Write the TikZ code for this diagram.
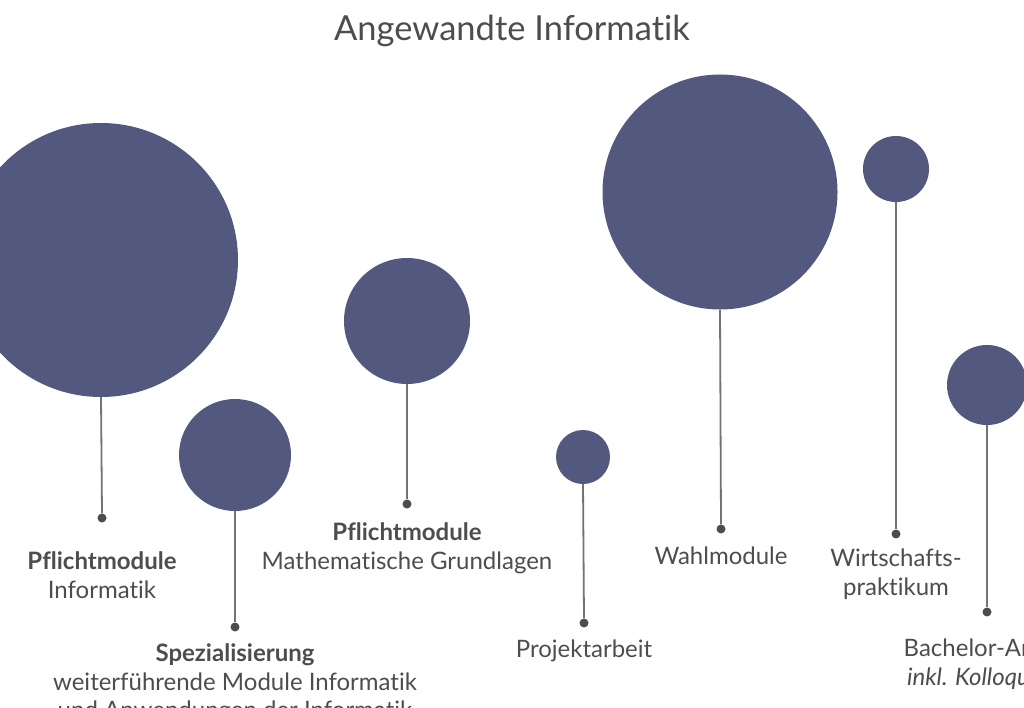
\documentclass[tikz,border=0pt]{standalone}
\usepackage{fontspec}
\setmainfont{Lato}[Ligatures={NoCommon,NoRare}]
\usetikzlibrary{positioning}
\definecolor{bubbleblue}{RGB}{82,88,126}
\definecolor{stemgray}{RGB}{115,115,115}
\definecolor{textgray}{RGB}{77,77,77}

\begin{document}
\begin{tikzpicture}[x=1pt, y=-1pt,
    bubble/.style={circle, fill=bubbleblue, inner sep=0pt, minimum size=#1},
    pin dot/.style={circle, fill=textgray, inner sep=0pt, minimum size=9pt},
    stem/.style={draw=stemgray, line width=1.8pt},
    caption/.style={align=center, text=textgray, inner sep=0pt, font=\fontsize{24}{28.5}\selectfont},
    heading/.style={text=textgray, inner sep=0pt, font=\fontsize{34.5}{40}\selectfont}]

    \clip (0,0) rectangle (1024,708);

    \node [heading] (title) at (512,31) {Angewandte Informatik};

    % bubbles
    \node [bubble=274pt] (infcirc) at (101,260) {};
    \node [bubble=112pt] (spezcirc) at (235,455) {};
    \node [bubble=126pt] (mathcirc) at (407,321) {};
    \node [bubble=54pt] (projcirc) at (583,457) {};
    \node [bubble=235pt] (wahlcirc) at (720,192) {};
    \node [bubble=66pt] (praxcirc) at (896,169) {};
    \node [bubble=80pt] (bachcirc) at (987,385) {};

    % pins
    \node [pin dot] (infdot) at (102,518) {};
    \node [pin dot] (spezdot) at (235,627) {};
    \node [pin dot] (mathdot) at (407,504) {};
    \node [pin dot] (projdot) at (584,623) {};
    \node [pin dot] (wahldot) at (721,529) {};
    \node [pin dot] (praxdot) at (896,534) {};
    \node [pin dot] (bachdot) at (987,612) {};

    \foreach \m in {inf,spez,math,proj,wahl,prax,bach}
        \draw [stem] (\m circ.south) -- (\m dot.north);

    % labels
    \node [caption, below=29pt of infdot] (inflabel) {\textbf{Pflichtmodule}\\Informatik};
    \node [caption, below=12pt of spezdot] (spezlabel) {\textbf{Spezialisierung}\\weiterführende Module Informatik\\und Anwendungen der Informatik};
    \node [caption, below=14pt of mathdot] (mathlabel) {\textbf{Pflichtmodule}\\Mathematische Grundlagen};
    \node [caption, below=12pt of projdot] (projlabel) {Projektarbeit};
    \node [caption, below=13pt of wahldot] (wahllabel) {Wahlmodule};
    \node [caption, below=10pt of praxdot] (praxlabel) {Wirtschafts-\\praktikum};
    \node [caption, below=22pt of bachdot] (bachlabel) {Bachelor-Arbeit\\\textit{inkl. Kolloquium}};
\end{tikzpicture}
\end{document}
